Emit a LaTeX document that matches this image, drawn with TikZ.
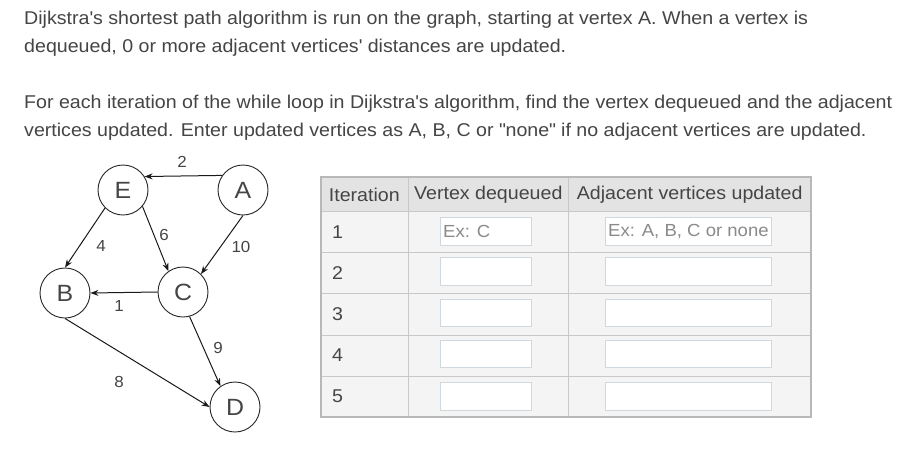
\documentclass[tikz,border=0pt]{standalone}
\usepackage{fontspec}
\setmainfont[FakeStretch=1.06]{Liberation Sans}
\usetikzlibrary{arrows.meta}
\definecolor{txt}{HTML}{454545}
\definecolor{hdr}{HTML}{E3E3E3}
\definecolor{body}{HTML}{F4F4F4}
\definecolor{grid}{HTML}{C8C8C8}
\definecolor{outer}{HTML}{B8B8B8}
\definecolor{boxb}{HTML}{CFD8DC}
\definecolor{ph}{HTML}{8A8A8A}
\tikzset{
  vtx/.style={circle,draw=black!85,line width=0.9pt,minimum size=50pt,inner sep=0pt,font=\fontsize{23.5}{23.5}\selectfont,text=txt},
  edge/.style={draw=black!90,line width=1pt,-{Stealth[length=8pt,width=6pt]}},
  lbl/.style={font=\fontsize{16}{16}\selectfont,text=txt,inner sep=0pt},
  para/.style={anchor=base west,inner sep=0pt,font=\fontsize{18.5}{18.5}\selectfont,text=txt},
  cell/.style={font=\fontsize{18.5}{18.5}\selectfont,text=txt,inner sep=0pt},
  inbox/.style={draw=boxb,fill=white,line width=0.8pt},
  phtext/.style={font=\fontsize{17.5}{17.5}\selectfont,text=ph,anchor=west,inner sep=0pt}
}
\begin{document}
\begin{tikzpicture}[x=1pt,y=-1pt]
\useasboundingbox[fill=white] (0,0) rectangle (903,456);
% paragraph text
\node[para] (t1) at (24,24) {Dijkstra\textquotesingle s shortest path algorithm is run on the graph, starting at vertex A. When a vertex is};
\node[para] (t2) at (24,52) {dequeued, 0 or more adjacent vertices\textquotesingle\ distances are updated.};
\node[para] (t3) at (24,108) {For each iteration of the while loop in Dijkstra\textquotesingle s algorithm, find the vertex dequeued and the adjacent};
\node[para] (t4) at (24,136) {vertices updated. Enter updated vertices as A, B, C or \textquotedbl none\textquotedbl\ if no adjacent vertices are updated.};
% graph
\node[vtx] (E) at (123,190) {E};
\node[vtx] (A) at (243,190) {A};
\node[vtx] (B) at (65,293) {B};
\node[vtx] (C) at (183,292) {C};
\node[vtx] (D) at (235,407) {D};
\draw[edge] (A.145) -- (E.32);
\draw[edge] (E.225) -- (B.north);
\draw[edge] (E.-40) -- (C.125);
\draw[edge] (A.south) -- (C.45);
\draw[edge] (C.west) -- (B.east);
\draw[edge] (B.south) -- (D.west);
\draw[edge] (C.-75) -- (D.125);
\node[lbl] (l2) at (182,162) {2};
\node[lbl] (l4) at (101,246) {4};
\node[lbl] (l6) at (164,235) {6};
\node[lbl] (l10) at (241,247) {10};
\node[lbl] (l1) at (119,306) {1};
\node[lbl] (l9) at (218,348) {9};
\node[lbl] (l8) at (119,382) {8};
% table
\fill[hdr] (320.7,177.3) rectangle (810.7,211.7);
\fill[body] (320.7,211.7) rectangle (810.7,417.3);
\foreach \y in {211.7,252.3,293.3,335,376}{\draw[grid,line width=1pt] (320.7,\y) -- (810.7,\y);}
\foreach \x in {408,568.7}{\draw[grid,line width=1pt] (\x,177.3) -- (\x,417.3);}
\draw[outer,line width=2pt] (320.7,177.3) rectangle (810.7,417.3);
\node[cell] (h1) at (364.3,194.5) {Iteration};
\node[cell] (h2) at (488.3,194.5) {Vertex dequeued};
\node[cell] (h3) at (689.7,194.5) {Adjacent vertices updated};
\node[cell,anchor=west] (r1) at (332,232) {1};
\node[cell,anchor=west] (r2) at (332,272.8) {2};
\node[cell,anchor=west] (r3) at (332,314) {3};
\node[cell,anchor=west] (r4) at (332,355.5) {4};
\node[cell,anchor=west] (r5) at (332,396.7) {5};
\draw[inbox] (440.3,217.7) rectangle (531.3,245.7);
\draw[inbox] (605.3,217.7) rectangle (771.3,245.7);
\draw[inbox] (440.3,257.3) rectangle (531.3,285.3);
\draw[inbox] (605.3,257.3) rectangle (771.3,285.3);
\draw[inbox] (440.3,299.3) rectangle (531.3,326.7);
\draw[inbox] (605.3,299.3) rectangle (771.3,326.7);
\draw[inbox] (440.3,340.7) rectangle (531.3,367.7);
\draw[inbox] (605.3,340.7) rectangle (771.3,367.7);
\draw[inbox] (440.3,382) rectangle (531.3,410);
\draw[inbox] (605.3,382) rectangle (771.3,410);
\node[phtext] (p1) at (443,231.7) {Ex: C};
\node[phtext] (p2) at (608,231.7) {Ex: A, B, C or none};
\end{tikzpicture}
\end{document}
